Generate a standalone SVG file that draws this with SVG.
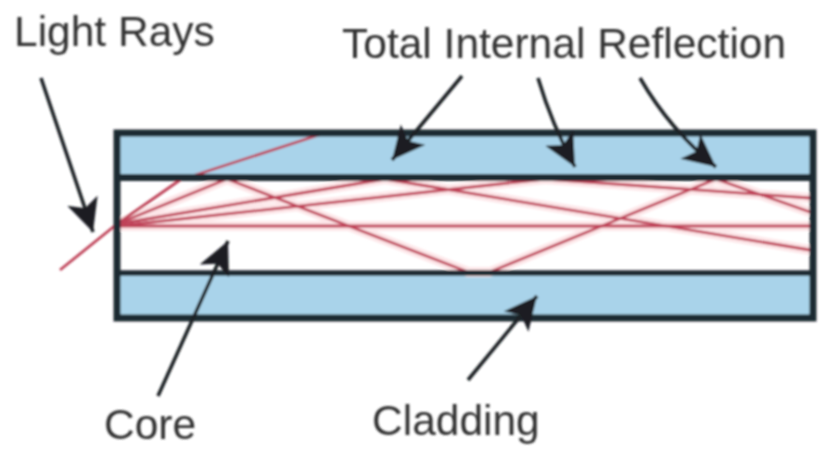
<svg xmlns="http://www.w3.org/2000/svg" width="829" height="466" viewBox="0 0 829 466">
<style>
.clad{fill:#a9d3ea}
.wall{fill:none;stroke:#1f2a30;stroke-width:7}
.halo{fill:none;stroke:#fde6e8;stroke-width:10;stroke-linejoin:round}
.ray{fill:none;stroke:#bf4258;stroke-width:2.8;stroke-linejoin:round}
.arrow{fill:none;stroke:#1e2225;stroke-width:3.6;marker-end:url(#head)}
text{font-family:"Liberation Sans",Arial,sans-serif;font-size:42.500px;fill:#333}
</style>
<defs>
<marker id="head" markerUnits="userSpaceOnUse" markerWidth="36" markerHeight="36" refX="33" refY="16" orient="auto">
<path d="M0 0L33 16L0 32L8 16Z" fill="#1a1f24"/>
</marker>
<filter id="soft" filterUnits="userSpaceOnUse" x="0" y="0" width="829" height="466"><feGaussianBlur stdDeviation="0.8"/></filter>
<path id="r1" d="M60 270L117 224L180 180L325 133"/>
<path id="r2" d="M117 224L227 179L468 272H490L716 179L810 212"/>
<path id="r3" d="M117 224L385 179L810 250"/>
<path id="r4" d="M117 226L545 179L810 198"/>
<path id="r5" d="M117 226H810"/>
</defs>
<rect width="829" height="466" fill="#fff"/>
<g filter="url(#soft)">
<g id="fibre">
<rect class="clad" x="117" y="133" width="696" height="45"/>
<rect class="clad" x="117" y="273" width="696" height="45"/>
</g>
<g id="rays">
<use class="halo" href="#r2"/><use class="halo" href="#r3"/><use class="halo" href="#r4"/><use class="halo" href="#r5"/>
<use class="ray" href="#r1"/><use class="ray" href="#r2"/><use class="ray" href="#r3"/><use class="ray" href="#r4"/><use class="ray" href="#r5"/>
</g>
<g id="walls">
<rect class="wall" x="117" y="133" width="696" height="185"/>
<path class="wall" d="M117 177.500H813"/>
<path class="wall" style="stroke-width:5.500" d="M117 273H813"/>
</g>
<g id="connectors">
<path class="arrow" d="M41 78L93 232"/>
<path class="arrow" d="M462 76L392 160"/>
<path class="arrow" d="M538 78Q552 125 575 167"/>
<path class="arrow" d="M640 78Q670 130 716 167"/>
<path class="arrow" d="M158 396L228 241"/>
<path class="arrow" d="M468 380L537 296"/>
</g>
<g id="labels">
<text x="14" y="46">Light Rays</text>
<text x="342" y="58">Total Internal Reflection</text>
<text x="104" y="439">Core</text>
<text x="372" y="435">Cladding</text>
</g>
</g>
</svg>
